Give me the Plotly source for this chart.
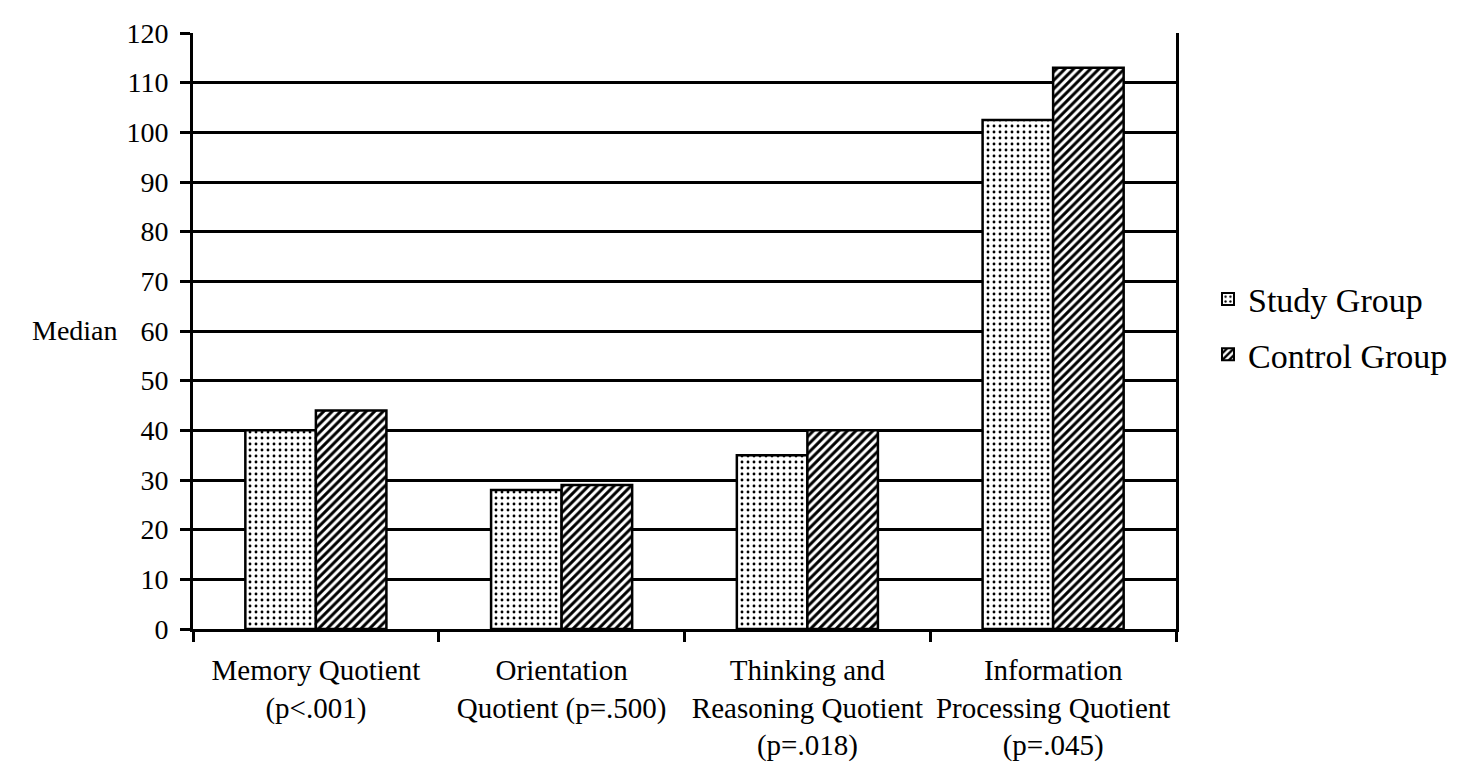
import plotly.graph_objects as go

categories = [
    "Memory Quotient<br>(p&lt;.001)",
    "Orientation<br>Quotient (p=.500)",
    "Thinking and<br>Reasoning Quotient<br>(p=.018)",
    "Information<br>Processing Quotient<br>(p=.045)",
]
study_group = [40, 28, 35, 102.5]
control_group = [44, 29, 40, 113]
y_ticks = list(range(0, 121, 10))

FONT = "Liberation Serif, Times New Roman, serif"

fig = go.Figure()
fig.add_trace(go.Bar(
    x=categories, y=study_group, name="Study Group", legendgroup="study",
    marker=dict(color="white", line=dict(color="black", width=2.5),
                pattern=dict(shape=".", fgcolor="black", bgcolor="white",
                             size=6, solidity=0.18, fillmode="replace")),
))
fig.add_trace(go.Bar(
    x=categories, y=control_group, name="Control Group", legendgroup="control",
    marker=dict(color="white", line=dict(color="black", width=2.5),
                pattern=dict(shape="/", fgcolor="black", bgcolor="white",
                             size=6, solidity=0.5, fillmode="replace")),
))

plot_w = 1469 - 193 - 293
plot_h = 777 - 33 - 148

fig.update_layout(
    width=1469, height=777,
    margin=dict(l=193, r=293, t=33, b=148),
    paper_bgcolor="white", plot_bgcolor="white",
    barmode="group", bargap=0.426, bargroupgap=0,
    font=dict(family=FONT, size=28, color="black"),
    legend=dict(x=(1208 - 193) / plot_w, y=(777 - 148 - 327) / plot_h,
                xanchor="left", yanchor="middle",
                font=dict(family=FONT, size=34, color="black"),
                itemsizing="constant", tracegroupgap=8),
    showlegend=True,
    xaxis=dict(
        type="category", tickson="boundaries", ticks="outside", ticklen=10,
        tickwidth=2.5, tickcolor="black", showline=True, linecolor="black",
        linewidth=3, showgrid=False, tickfont=dict(family=FONT, size=29),
        ticklabelstandoff=13,
    ),
    yaxis=dict(
        range=[0, 120], tickvals=y_ticks, ticks="outside", ticklen=10,
        tickwidth=2.5, tickcolor="black", showline=True, linecolor="black",
        linewidth=3, mirror=True, showgrid=True, gridcolor="black",
        gridwidth=2.5, zeroline=False, tickfont=dict(family=FONT, size=28),
        ticklabelstandoff=6,
    ),
    annotations=[dict(text="Median", x=(75 - 193) / plot_w,
                      y=(777 - 148 - 330) / plot_h, xref="paper", yref="paper",
                      xanchor="center", yanchor="middle", showarrow=False,
                      font=dict(family=FONT, size=28))],
)

fig.write_html("out.html")
